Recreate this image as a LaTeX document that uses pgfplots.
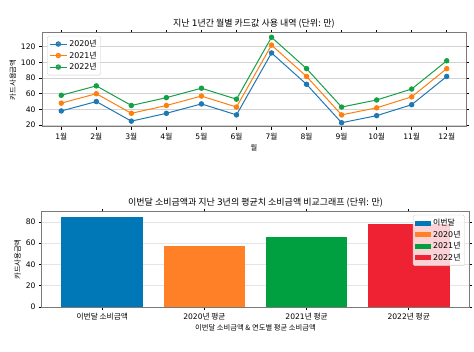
\documentclass[border=0pt]{standalone}
\usepackage{fontspec}
\setmainfont{Noto Sans CJK KR}
\newfontfamily\djv{DejaVu Sans}
\usepackage{pgfplots}
\pgfplotsset{compat=1.18}
\definecolor{lblue}{HTML}{1F77B4}
\definecolor{lorange}{HTML}{FF7F0E}
\definecolor{lgreen}{HTML}{16A045}
\definecolor{bblue}{HTML}{0077B6}
\definecolor{borange}{HTML}{FF8027}
\definecolor{bgreen}{HTML}{00A040}
\definecolor{bred}{HTML}{EE2233}
\definecolor{frame}{HTML}{7A7A7A}
\newcommand{\tf}{\fontsize{7.7}{9}\selectfont}
\newcommand{\lf}{\fontsize{7.9}{9}\selectfont}
\newcommand{\D}[1]{{\djv\fontsize{7.6}{9}\selectfont #1}}
\newcommand{\DL}[1]{{\djv\fontsize{7.9}{9}\selectfont #1}}
\pgfplotsset{
  common/.style={
    scale only axis,
    anchor=south west,
    axis line style={frame, line width=1pt},
    tick align=outside,
    major tick length=3pt,
    tick style={black, line width=0.6pt},
    ymajorgrids,
    grid style={gray!35, line width=0.6pt},
    tick label style={font=\tf},
    yticklabel style={font=\djv\fontsize{7.6}{9}\selectfont},
    label style={font=\fontsize{7.3}{9}\selectfont},
    title style={font=\fontsize{9}{10}\selectfont, yshift=-5pt},
    /pgf/number format/assume math mode=true,
    legend style={font=\lf, draw=gray!40, rounded corners=1.5pt, fill=white, fill opacity=0.8, text opacity=1, row sep=-0.5pt, inner sep=2pt},
    legend cell align=left,
  }
}
\begin{document}
\begin{tikzpicture}
\begin{axis}[common,
  at={(42pt,224pt)}, width=424pt, height=94pt,
  xmin=0.45, xmax=12.55, ymin=17.55, ymax=137.45,
  xtick={1,...,12},
  xticklabels={\D{1}월,\D{2}월,\D{3}월,\D{4}월,\D{5}월,\D{6}월,\D{7}월,\D{8}월,\D{9}월,\D{10}월,\D{11}월,\D{12}월},
  ytick={20,40,60,80,100,120},
  title={지난 {\djv 1}년간 월별 카드값 사용 내역 (단위: 만)},
  xlabel={월}, ylabel={카드사용금액},
  xlabel style={yshift=3pt}, ylabel style={yshift=-2pt},
  legend style={at={(0.012,0.97)}, anchor=north west},
  every axis plot/.append style={line width=1pt, mark=*, mark size=2.2pt},
]
\addplot[lblue, mark options={fill=lblue}] coordinates {(1,38)(2,50)(3,25)(4,35)(5,47)(6,33)(7,112)(8,72)(9,23)(10,32)(11,46)(12,82)};
\addplot[lorange, mark options={fill=lorange}] coordinates {(1,48)(2,60)(3,35)(4,45)(5,57)(6,43)(7,122)(8,82)(9,33)(10,42)(11,56)(12,92)};
\addplot[lgreen, mark options={fill=lgreen}] coordinates {(1,58)(2,70)(3,45)(4,55)(5,67)(6,53)(7,132)(8,92)(9,43)(10,52)(11,66)(12,102)};
\legend{\DL{2020}년,\DL{2021}년,\DL{2022}년}
\end{axis}
\begin{axis}[common,
  at={(42pt,44pt)}, width=427pt, height=95pt,
  xmin=-0.59, xmax=3.59, ymin=0, ymax=89.25,
  xtick={0,1,2,3},
  xticklabels={이번달 소비금액,\D{2020}년 평균,\D{2021}년 평균,\D{2022}년 평균},
  ytick={0,20,40,60,80},
  grid style={gray!20, line width=0.6pt},
  title={이번달 소비금액과 지난 {\djv 3}년의 평균치 소비금액 비교그래프 (단위: 만)},
  xlabel={이번달 소비금액 \& 연도별 평균 소비금액}, ylabel={카드사용금액},
  xlabel style={yshift=3pt}, ylabel style={yshift=-2pt},
  legend style={at={(0.99,0.97)}, anchor=north east},
  ybar, bar width=0.8, bar shift=0pt,
  legend image code/.code={\fill[#1, rounded corners=0pt, fill opacity=1] (0pt,-2.5pt) rectangle (16pt,2.5pt);},
]
\addplot[fill=bblue, draw=none] coordinates {(0,85)};
\addplot[fill=borange, draw=none] coordinates {(1,57)};
\addplot[fill=bgreen, draw=none] coordinates {(2,66)};
\addplot[fill=bred, draw=none] coordinates {(3,78)};
\legend{이번달,\DL{2020}년,\DL{2021}년,\DL{2022}년}
\end{axis}
\pgfresetboundingbox
\useasboundingbox (0,0) rectangle (474pt,351pt);
\end{tikzpicture}
\end{document}
